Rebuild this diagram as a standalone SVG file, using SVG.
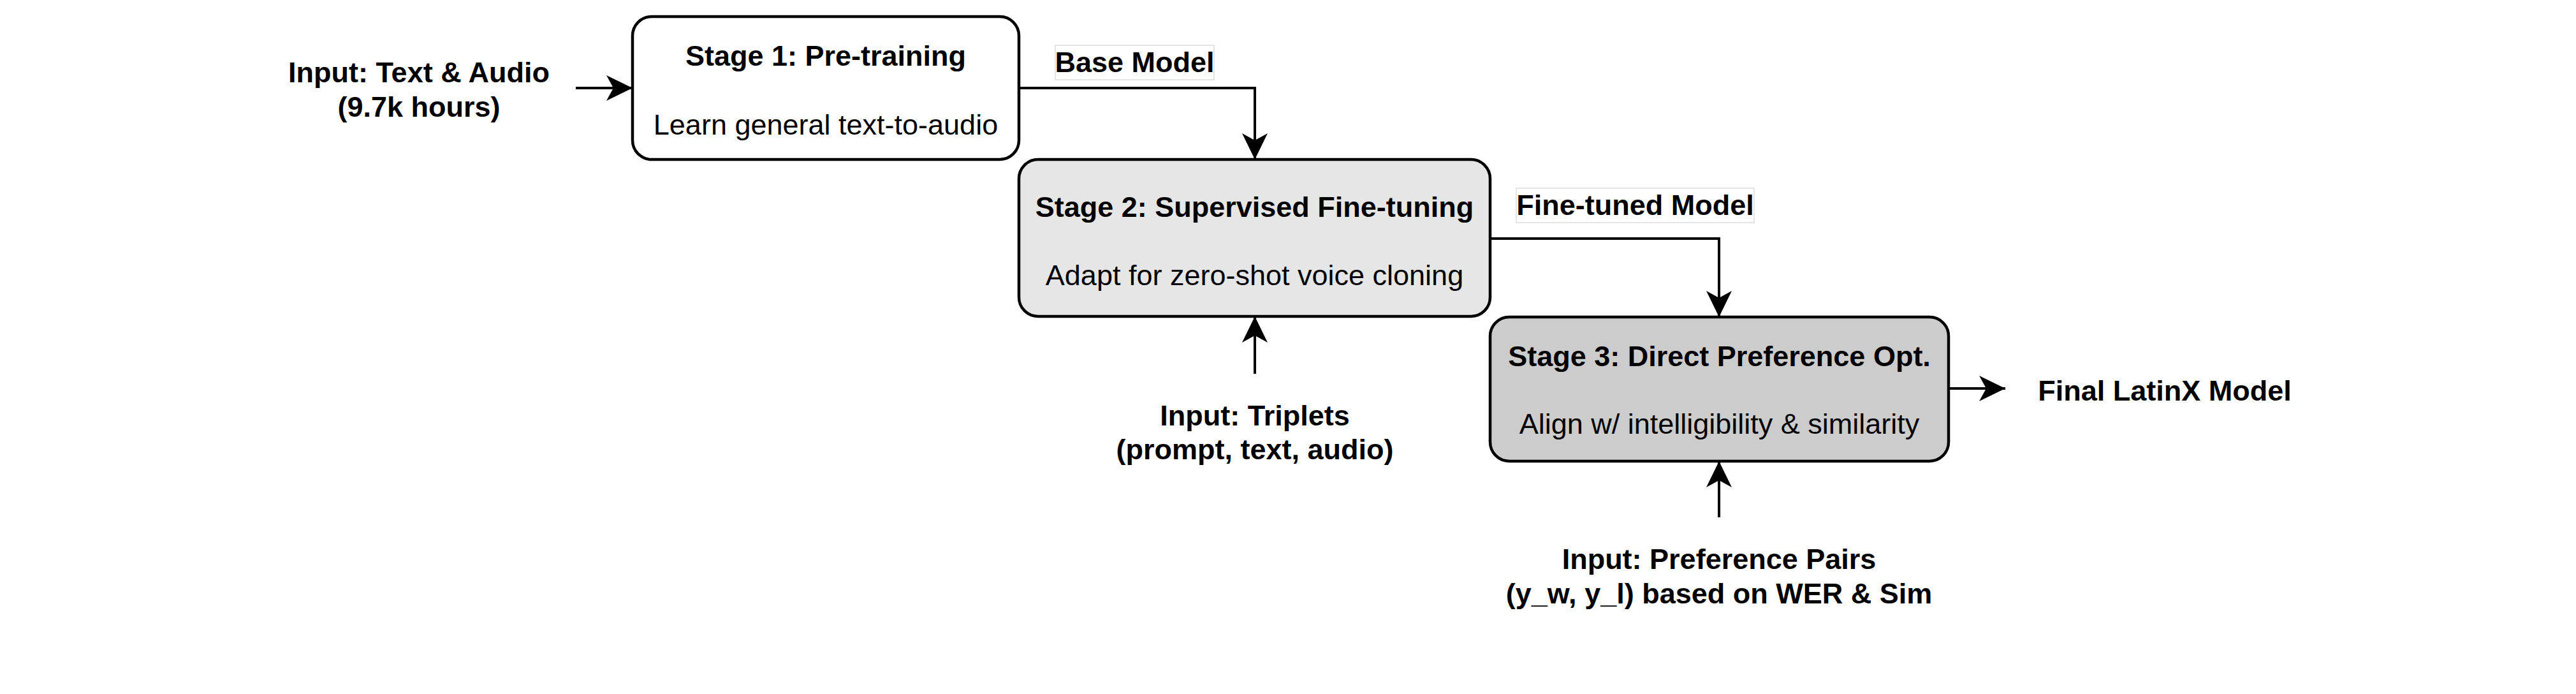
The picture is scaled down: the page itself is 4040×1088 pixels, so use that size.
<svg xmlns="http://www.w3.org/2000/svg" width="4040" height="1088" viewBox="0 0 4040 1088">
  <style>
    .node { stroke: #000000; stroke-width: 4.5; }
    .title { font-family: "Liberation Sans", Arial, sans-serif; font-size: 45px; font-weight: bold; fill: #000000; text-anchor: middle; }
    .sub { font-family: "Liberation Sans", Arial, sans-serif; font-size: 45px; font-weight: normal; fill: #000000; text-anchor: middle; }
    .conn { fill: none; stroke: #000000; stroke-width: 4; }
    .lblbg { fill: #ffffff; stroke: #dddddd; stroke-width: 1.5; }
  </style>
  <defs>
    <marker id="arrow" markerUnits="userSpaceOnUse" viewBox="0 0 41 40" refX="41" refY="20" markerWidth="41" markerHeight="40" orient="auto">
      <path d="M0,0 L41,20 L0,40 L11,20 Z" fill="#000000"/>
    </marker>
  </defs>
  <rect x="0" y="0" width="4040" height="1088" fill="#ffffff"/>

  <g id="connectors">
    <path class="conn" d="M903,138 H992" marker-end="url(#arrow)"/>
    <path class="conn" d="M1598,138 H1968 V250" marker-end="url(#arrow)"/>
    <path class="conn" d="M2337,374 H2696 V497" marker-end="url(#arrow)"/>
    <path class="conn" d="M1968,586 V496" marker-end="url(#arrow)"/>
    <path class="conn" d="M2696,811 V723" marker-end="url(#arrow)"/>
    <path class="conn" d="M3056,609 H3145" marker-end="url(#arrow)"/>
  </g>

  <g id="label-base-model">
    <rect class="lblbg" x="1655" y="71" width="249" height="54"/>
    <text class="title" x="1779.5" y="113">Base Model</text>
  </g>
  <g id="label-fine-tuned-model">
    <rect class="lblbg" x="2378" y="295" width="373" height="54"/>
    <text class="title" x="2564.5" y="337">Fine-tuned Model</text>
  </g>

  <g id="input-text-audio">
    <text class="title" x="657" y="129">Input: Text &amp; Audio</text>
    <text class="title" x="657" y="183">(9.7k hours)</text>
  </g>

  <g id="stage1">
    <rect class="node" x="992" y="26" width="606" height="224" rx="30" ry="30" fill="#ffffff"/>
    <text class="title" x="1295" y="103">Stage 1: Pre-training</text>
    <text class="sub" x="1295" y="211">Learn general text-to-audio</text>
  </g>

  <g id="stage2">
    <rect class="node" x="1598" y="250" width="739" height="246" rx="30" ry="30" fill="#e6e6e6"/>
    <text class="title" x="1967.5" y="340">Stage 2: Supervised Fine-tuning</text>
    <text class="sub" x="1967.5" y="447">Adapt for zero-shot voice cloning</text>
  </g>

  <g id="stage3">
    <rect class="node" x="2337" y="497" width="719" height="226" rx="30" ry="30" fill="#cccccc"/>
    <text class="title" x="2696.5" y="574">Stage 3: Direct Preference Opt.</text>
    <text class="sub" x="2696.5" y="680">Align w/ intelligibility &amp; similarity</text>
  </g>

  <g id="input-triplets">
    <text class="title" x="1968" y="667">Input: Triplets</text>
    <text class="title" x="1968" y="720">(prompt, text, audio)</text>
  </g>

  <g id="input-preference-pairs">
    <text class="title" x="2696" y="892">Input: Preference Pairs</text>
    <text class="title" x="2696" y="946">(y_w, y_l) based on WER &amp; Sim</text>
  </g>

  <g id="final-model">
    <text class="title" x="3395" y="628">Final LatinX Model</text>
  </g>
</svg>
